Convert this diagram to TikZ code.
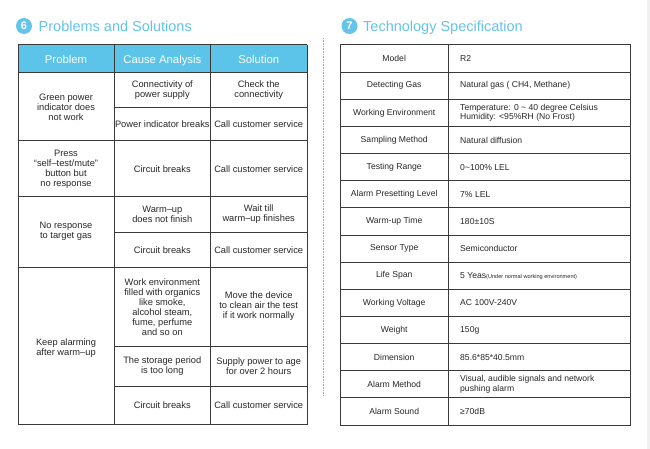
\documentclass[tikz,border=0pt]{standalone}
\usepackage{fontspec}
\setmainfont{Liberation Sans}
\definecolor{ttl}{RGB}{100,196,234}
\definecolor{hdr}{RGB}{92,196,232}
\definecolor{ln}{RGB}{58,58,58}
\definecolor{txt}{RGB}{40,40,40}
\begin{document}
\begin{tikzpicture}[x=1pt,y=-1pt,
  grid/.style={draw=ln, line width=1pt},
  cellL/.style={align=center, font=\fontsize{9.3}{10}\selectfont, text=txt, inner sep=0pt},
  hd/.style={anchor=base, font=\fontsize{11.3}{13}\selectfont, text=white, inner sep=0pt},
  rk/.style={align=center, font=\fontsize{8.6}{9.5}\selectfont, text=txt, inner sep=0pt},
  rv/.style={rk, anchor=west, align=left},
  numc/.style={circle, fill=ttl, minimum size=16pt, inner sep=0pt, text=white, font=\fontsize{11}{11}\selectfont\bfseries},
  ttltext/.style={anchor=base west, inner sep=0pt, text=ttl, font=\fontsize{14.5}{16}\selectfont}]
\useasboundingbox (0,0) rectangle (650,449);
\fill[white] (0,0) rectangle (650,449);
\fill[gray!12] (647,0) rectangle (650,449);

% titles
\node[numc] (n6) at (24,26) {6};
\node[ttltext] (t6) at (38.5,31.5) {Problems and Solutions};
\node[numc] (n7) at (349.5,26) {7};
\node[ttltext] (t7) at (363,31.5) {Technology Specification};

% separator
\draw[gray!70, line width=0.8pt, dash pattern=on 0.8pt off 0.8pt] (323,38) -- (323,395);

% ---------- left table ----------
\fill[hdr] (18,45) rectangle (307,73);
\foreach \yy in {45,73,140.7,196.7,267.3,424.7} \draw[grid] (18,\yy) -- (307,\yy);
\foreach \yy in {107.3,232,346,386} \draw[grid] (114.3,\yy) -- (307,\yy);
\foreach \xx in {18,114.3,210.3,307} \draw[grid] (\xx,45) -- (\xx,424.7);

\node[hd] (h1) at (66,63.3) {Problem};
\node[hd] (h2) at (162.3,63.3) {Cause Analysis};
\node[hd] (h3) at (258.7,63.3) {Solution};

\node[cellL] (p1) at (66,106.8) {Green power\\indicator does\\not work};
\node[cellL] (c1a) at (162.3,90.2) {Connectivity of\\power supply};
\node[cellL] (s1a) at (258.7,90.2) {Check the\\connectivity};
\node[cellL] (c1b) at (162.3,124) {Power indicator breaks};
\node[cellL] (s1b) at (258.7,124) {Call customer service};

\node[cellL] (p2) at (66,168.9) {Press\\“self–test/mute”\\button but\\no response};
\node[cellL] (c2) at (162.3,168.7) {Circuit breaks};
\node[cellL] (s2) at (258.7,168.7) {Call customer service};

\node[cellL] (p3) at (66,231.7) {No response\\to target gas};
\node[cellL] (c3a) at (162.3,214.3) {Warm–up\\does not finish};
\node[cellL] (s3a) at (258.7,214.3) {Wait till\\warm–up finishes};
\node[cellL] (c3b) at (162.3,249.7) {Circuit breaks};
\node[cellL] (s3b) at (258.7,249.7) {Call customer service};

\node[cellL] (p4) at (66,348.3) {Keep alarming\\after warm–up};
\node[cellL] (c4a) at (162.3,307.5) {Work environment\\filled with organics\\like smoke,\\alcohol steam,\\fume, perfume\\and so on};
\node[cellL] (s4a) at (258.7,306.5) {Move the device\\to clean air the test\\if it work normally};
\node[cellL] (c4b) at (162.3,366) {The storage period\\is too long};
\node[cellL] (s4b) at (258.7,366) {Supply power to age\\for over 2 hours};
\node[cellL] (c4c) at (162.3,405.3) {Circuit breaks};
\node[cellL] (s4c) at (258.7,405.3) {Call customer service};

% ---------- right table ----------
\foreach \k in {0,...,14} \draw[grid] (340,{45+27.143*\k}) -- (630.7,{45+27.143*\k});
\foreach \xx in {340,448.3,630.7} \draw[grid] (\xx,45) -- (\xx,425);

\node[rk] (k1) at (394.2,58.6) {Model};
\node[rv] (v1) at (460,58.6) {R2};
\node[rk] (k2) at (394.2,85.7) {Detecting Gas};
\node[rv] (v2) at (460,85.7) {Natural gas ( CH4, Methane)};
\node[rk] (k3) at (394.2,112.9) {Working Environment};
\node[rv] (v3) at (460,112.9) {Temperature: 0 \textasciitilde{} 40 degree Celsius\\Humidity: <95\%RH (No Frost)};
\node[rk] (k4) at (394.2,140) {Sampling Method};
\node[rv] (v4) at (460,140) {Natural diffusion};
\node[rk] (k5) at (394.2,167.1) {Testing Range};
\node[rv] (v5) at (460,167.1) {0\textasciitilde100\% LEL};
\node[rk] (k6) at (394.2,194.3) {Alarm Presetting Level};
\node[rv] (v6) at (460,194.3) {7\% LEL};
\node[rk] (k7) at (394.2,221.4) {Warm-up Time};
\node[rv] (v7) at (460,221.4) {180±10S};
\node[rk] (k8) at (394.2,248.6) {Sensor Type};
\node[rv] (v8) at (460,248.6) {Semiconductor};
\node[rk] (k9) at (394.2,275.7) {Life Span};
\node[rv] (v9) at (460,275.7) {5 Yeas{\fontsize{5.6}{6}\selectfont(Under normal working environment)}};
\node[rk] (k10) at (394.2,302.9) {Working Voltage};
\node[rv] (v10) at (460,302.9) {AC 100V-240V};
\node[rk] (k11) at (394.2,330) {Weight};
\node[rv] (v11) at (460,330) {150g};
\node[rk] (k12) at (394.2,357.1) {Dimension};
\node[rv] (v12) at (460,357.1) {85.6*85*40.5mm};
\node[rk] (k13) at (394.2,384.3) {Alarm Method};
\node[rv] (v13) at (460,384.3) {Visual, audible signals and network\\pushing alarm};
\node[rk] (k14) at (394.2,411.4) {Alarm Sound};
\node[rv] (v14) at (460,411.4) {≥70dB};
\end{tikzpicture}
\end{document}
